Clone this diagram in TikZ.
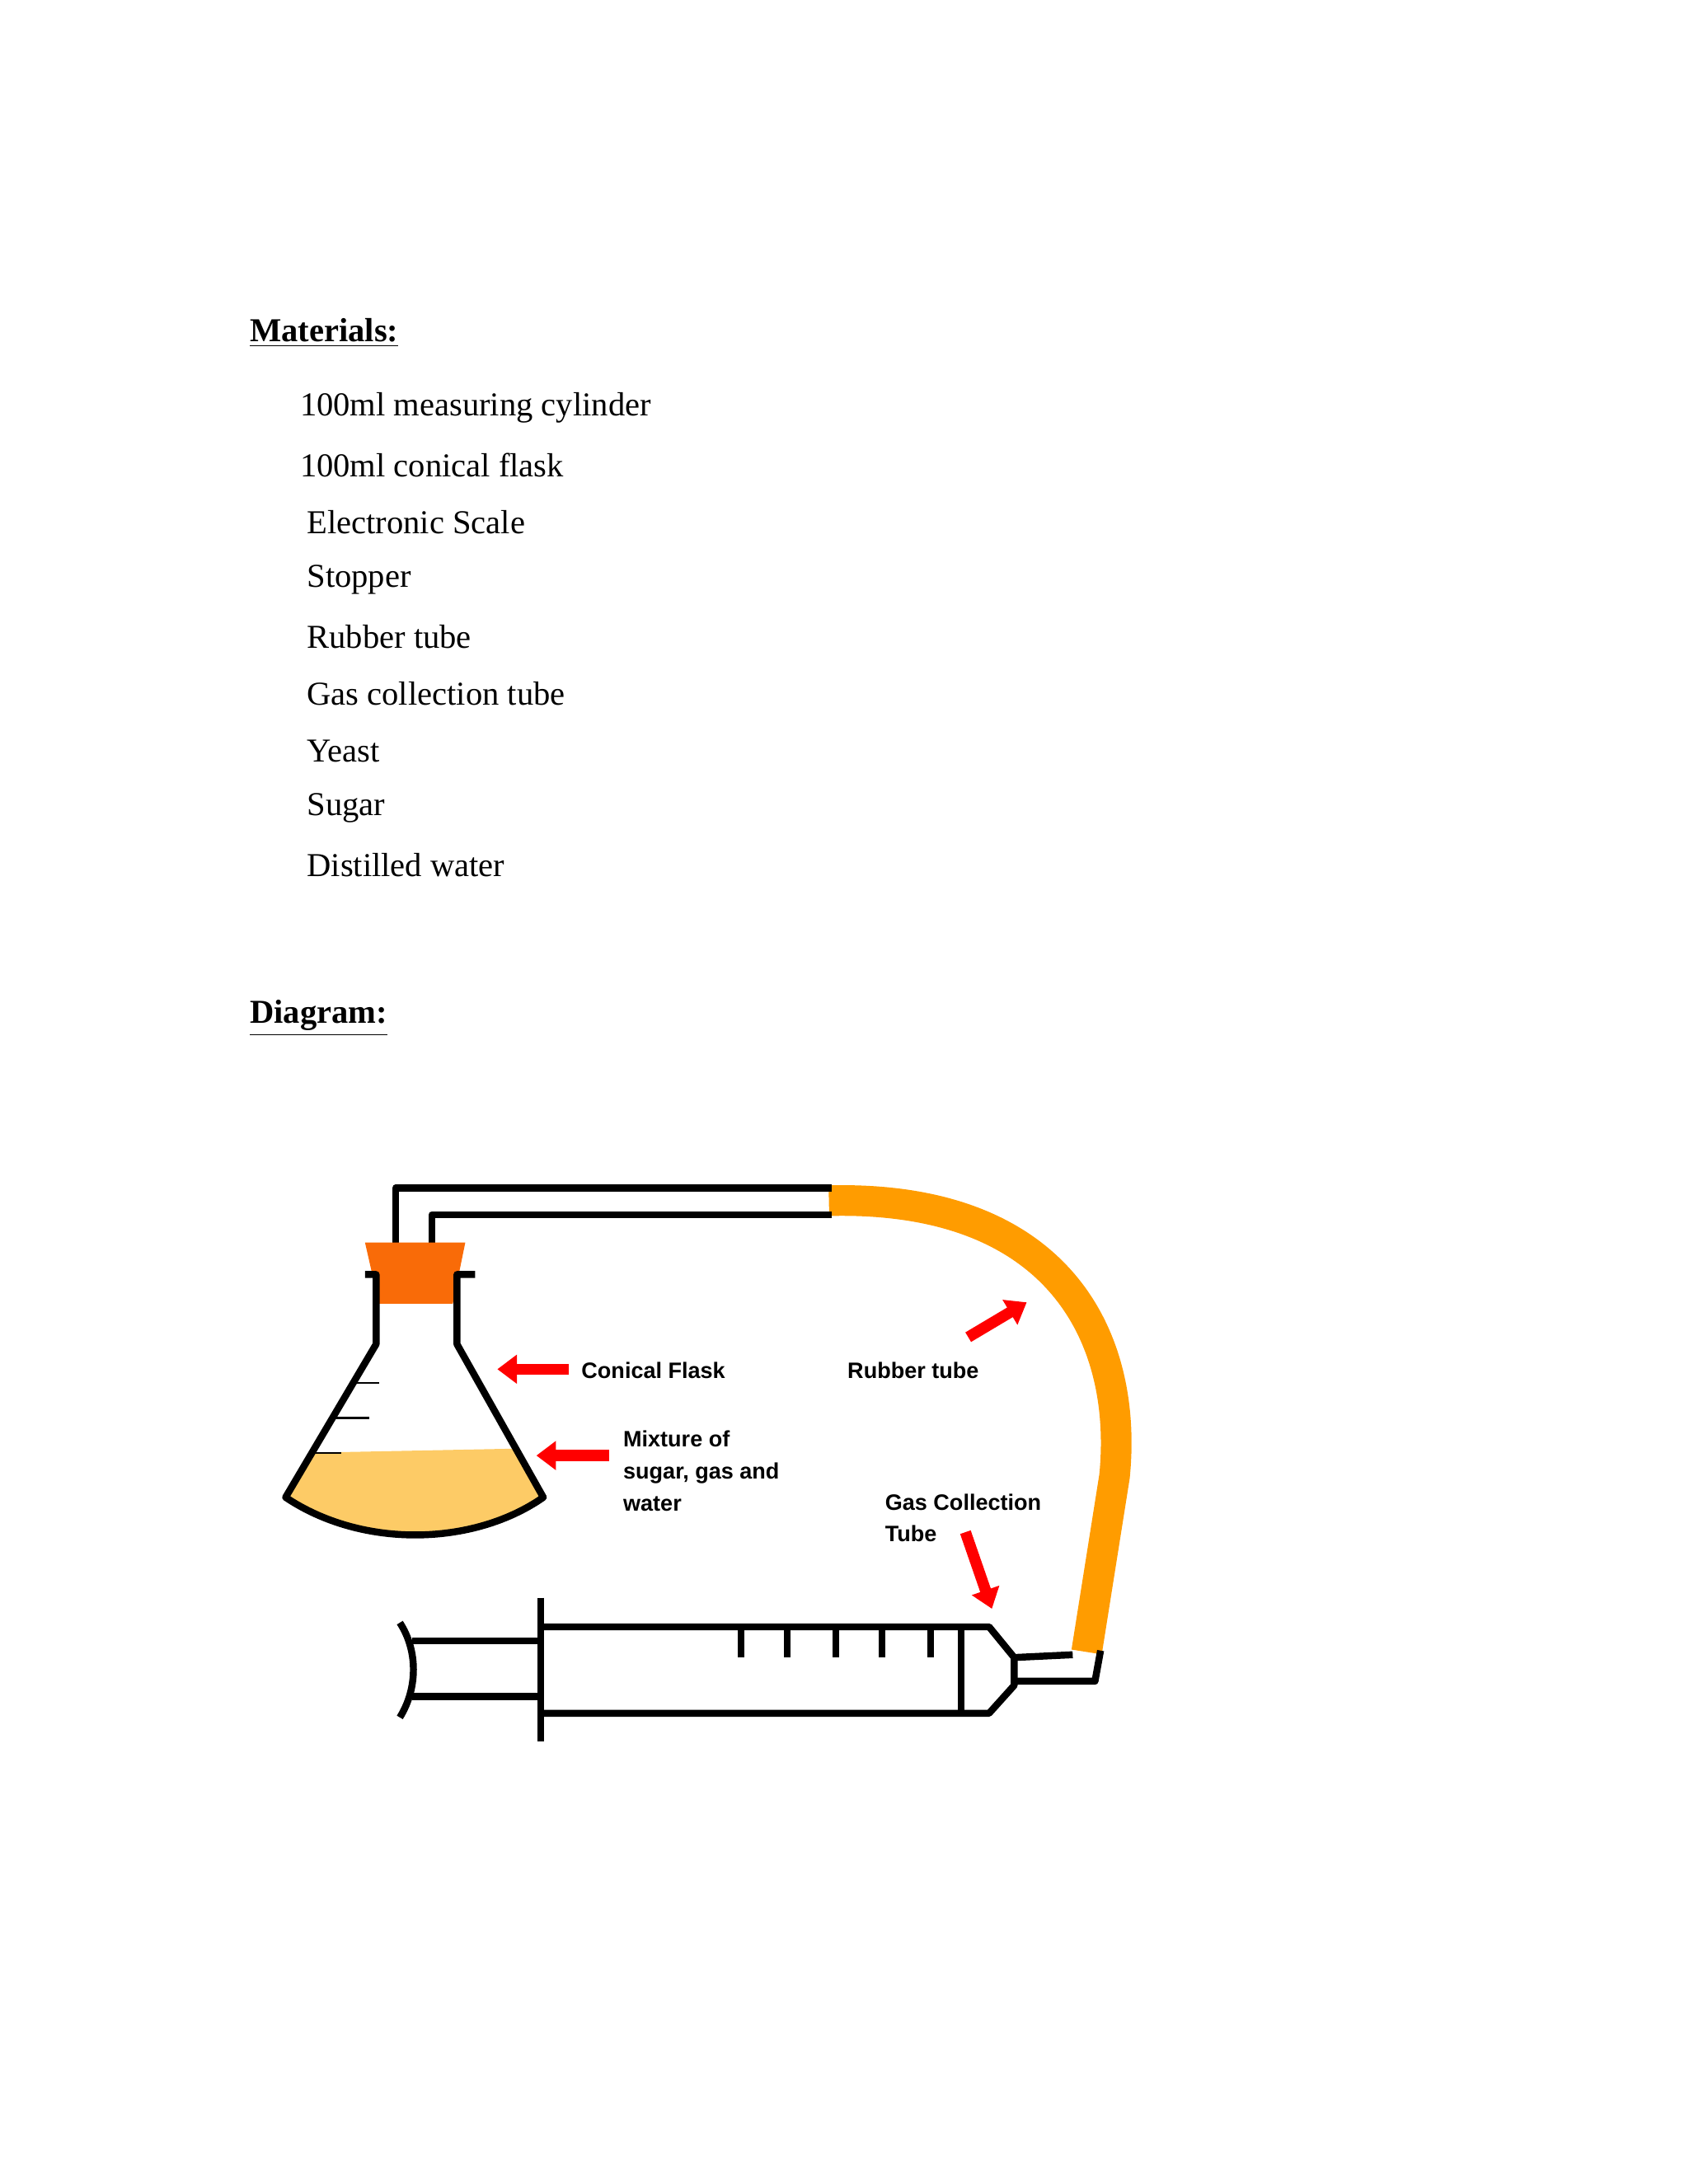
\documentclass[tikz,border=0pt]{standalone}
\usepackage{fontspec}
\setmainfont{Liberation Serif}
\newfontfamily\lab{Liberation Sans}
\usetikzlibrary{arrows.meta}
\definecolor{stop}{HTML}{F96B08}
\definecolor{tube}{HTML}{FF9C00}
\definecolor{liq}{HTML}{FDCB66}
\tikzset{
 blk/.style={line width=2.5pt,black,line join=round},
 thin/.style={line width=0.6pt,black},
 redarr/.style={line width=4pt,red,-{Triangle[length=7pt,width=10pt]}},
 body/.style={font=\fontsize{12}{14}\selectfont,anchor=west,inner sep=0pt},
 lbl/.style={font=\lab\bfseries\fontsize{8}{11.5}\selectfont,anchor=west,align=left,inner sep=0pt},
}
\begin{document}
\begin{tikzpicture}[x=0.5pt,y=-0.5pt]
\useasboundingbox (0,0) rectangle (1212,1568);
\node[body,font=\bfseries\fontsize{12}{14}\selectfont] (mat) at (179,239) {\underline{Materials:}};
\node[body] (m1) at (215,293) {100ml measuring cylinder};
\node[body] (m2) at (215,334) {100ml conical flask};
\node[body] (m3) at (220,375) {Electronic Scale};
\node[body] (m4) at (220,416) {Stopper};
\node[body] (m5) at (220,457) {Rubber tube};
\node[body] (m6) at (220,498) {Gas collection tube};
\node[body] (m7) at (220,539) {Yeast};
\node[body] (m8) at (220,580) {Sugar};
\node[body] (m9) at (220,621) {Distilled water};
\node[body,font=\bfseries\fontsize{12}{14}\selectfont] (dia) at (179,731) {\underline{Diagram:}};
% liquid
\fill[liq] (222,1043) -- (372,1040) -- (390,1075) .. controls (340,1110) and (260,1112) .. (205,1075) -- cycle;
% rubber tube
\draw[tube,line width=11pt] (595,862) .. controls (760,858) and (810,960) .. (800,1060) -- (780,1186);
% glass tube
\draw[blk] (284,895) -- (284,853) -- (597,853);
\draw[blk] (310,895) -- (310,872) -- (597,872);
% stopper
\fill[stop] (262,892) -- (334,892) -- (325,936) -- (272,936) -- cycle;
% flask
\draw[blk] (262,915) -- (270,915) -- (270,965) -- (205,1075) .. controls (260,1112) and (340,1110) .. (390,1075) -- (328,965) -- (328,915) -- (341,915);
\draw[thin] (255,993) -- (272,993);
\draw[thin] (240,1018) -- (265,1018);
\draw[thin] (225,1043) -- (245,1043);
% syringe
\draw[blk] (388,1147) -- (388,1250);
\draw[blk] (388,1168) -- (710,1168) -- (728,1190) -- (728,1210) -- (710,1230) -- (388,1230);
\draw[blk] (690,1168) -- (690,1230);
\foreach \x in {532,565,600,633,668} \draw[blk] (\x,1168) -- (\x,1190);
\draw[blk] (728,1190) -- (770,1188);
\draw[blk] (728,1207) -- (786,1207) -- (790,1185);
\draw[blk] (388,1178) -- (296,1178);
\draw[blk] (388,1218) -- (296,1218);
\draw[blk] (287,1165) .. controls (300,1185) and (300,1212) .. (287,1233);
% arrows
\draw[redarr] (408,983) -- (357,983);
\draw[redarr] (437,1045) -- (385,1045);
\draw[redarr] (695,960) -- (737,935);
\draw[redarr] (693,1100) -- (712,1155);
% labels
\node[lbl] (l1) at (417,984) {Conical Flask};
\node[lbl] (l2) at (608,984) {Rubber tube};
\node[lbl,anchor=north west] (l3) at (447,1027) {Mixture of\\sugar, gas and\\water};
\node[lbl,anchor=north west] (l4) at (635,1072) {Gas Collection\\Tube};
\end{tikzpicture}
\end{document}
